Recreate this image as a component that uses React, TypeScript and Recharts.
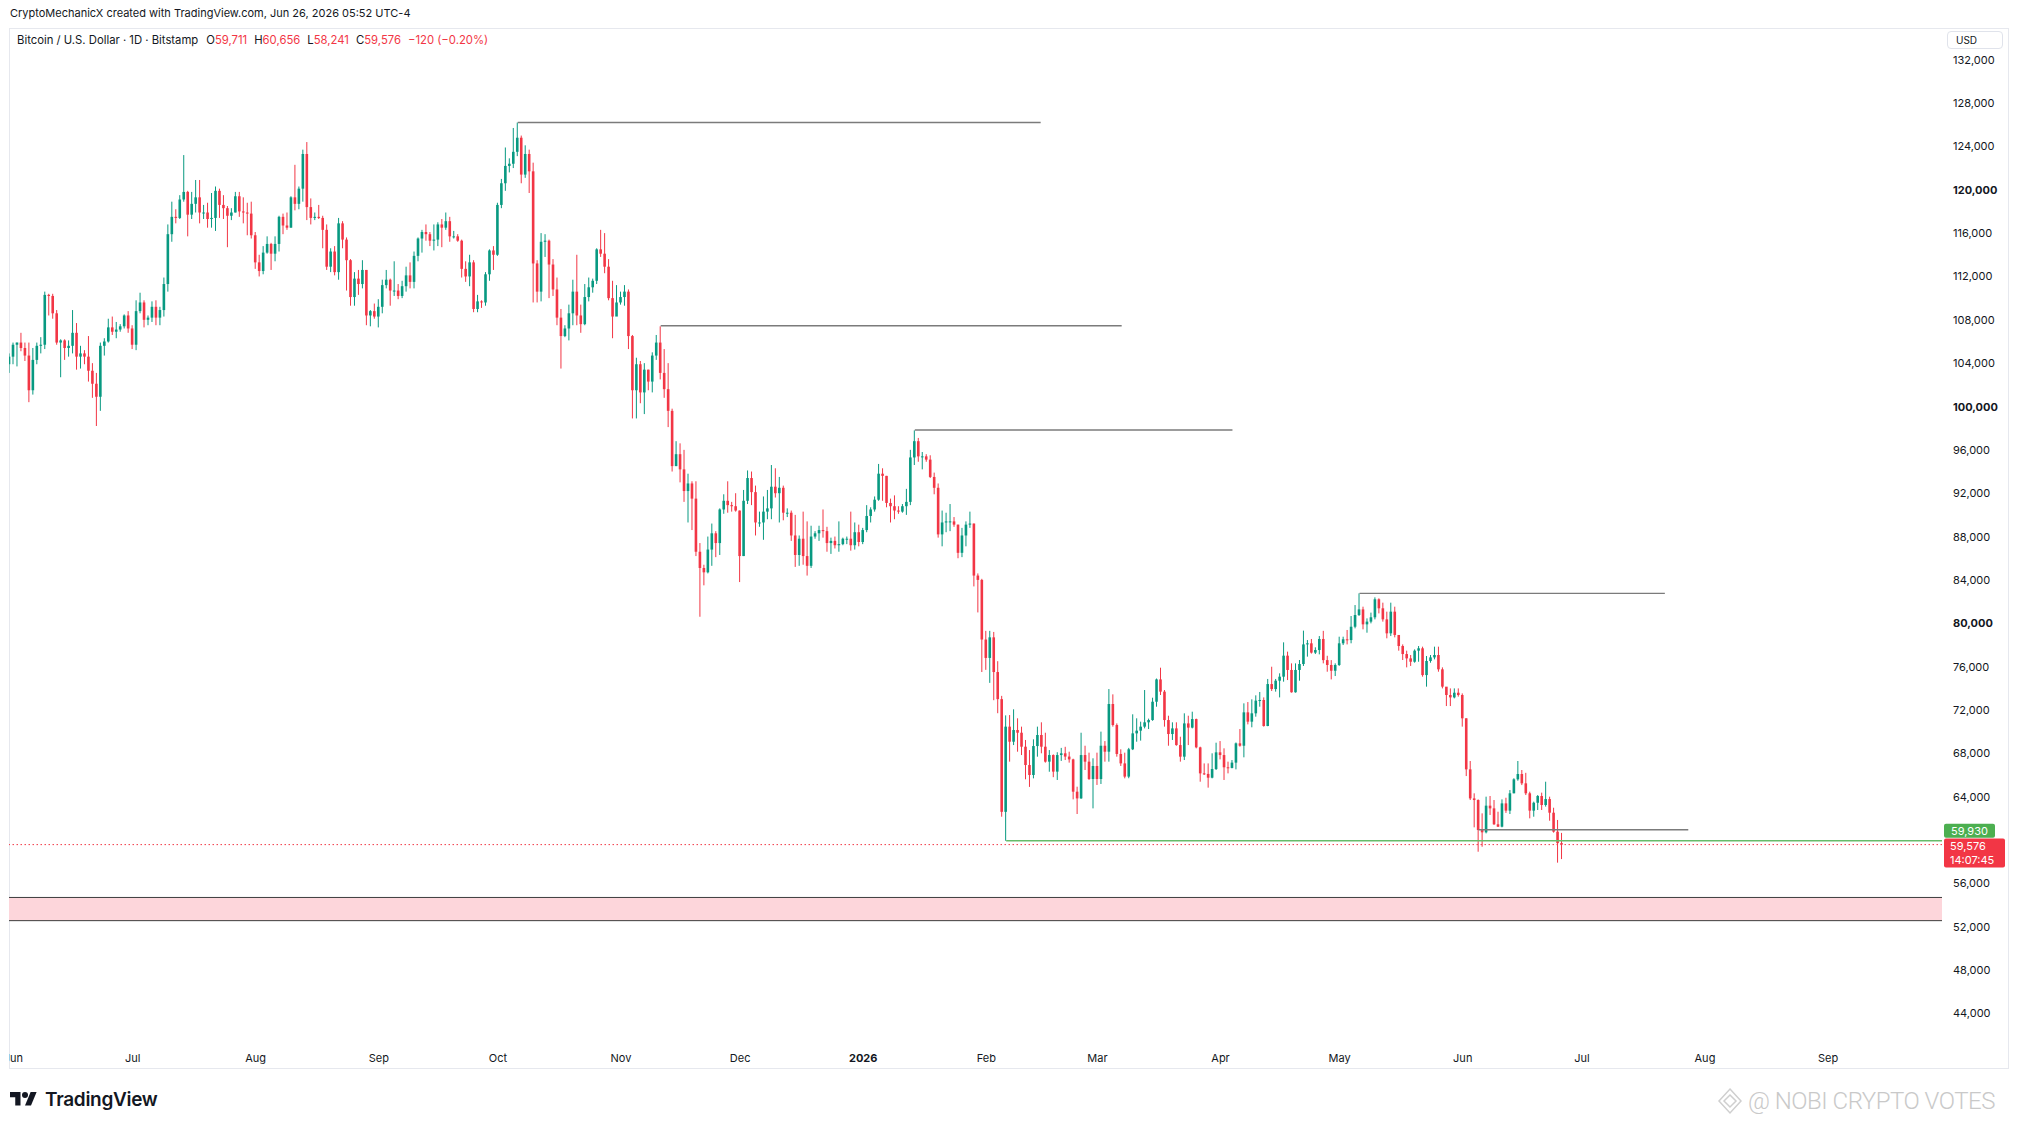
import React from "react";
import { ComposedChart, Bar, XAxis, YAxis, ReferenceLine, ReferenceArea } from "recharts";

const FONT = "Inter, 'Noto Sans', Roboto, sans-serif";
const GREEN = "#089981";
const RED = "#F23645";
const TEXT = "#131722";

// Daily candles, values in thousand USD: [high, low, close]; open = previous close
const firstOpen = 103.9;
const may2025 = [[104.9, 103.1, 104.6]];
const jun2025 = [
  [105.9, 103.9, 105.7], [105.9, 103.7, 105.9], [106.8, 105.1, 105.4], [105.9, 104.2, 104.7], [105.9, 100.4, 101.5],
  [105.4, 101.1, 104.3], [105.9, 103.9, 105.6], [106.4, 104.9, 105.7], [110.6, 105.3, 110.3], [110.4, 108.4, 110.2],
  [110.4, 108.1, 108.6], [108.9, 105.7, 105.9], [106.2, 102.7, 106.1], [106.2, 104.3, 105.4], [106.1, 104.6, 105.6],
  [108.9, 104.9, 106.8], [107.7, 103.4, 104.6], [105.6, 103.5, 104.9], [105.2, 103.9, 104.6], [106.5, 102.3, 103.3],
  [104.0, 100.8, 102.1], [103.1, 98.2, 100.9], [105.9, 99.6, 105.6], [106.3, 104.7, 106.0], [108.1, 105.9, 107.3],
  [108.3, 106.6, 106.9], [107.8, 106.3, 107.1], [107.6, 106.9, 107.4], [108.5, 107.2, 108.4], [108.8, 106.8, 107.2],
];
const jul2025 = [
  [107.5, 105.3, 105.7], [109.8, 105.2, 108.8], [110.5, 108.6, 109.6], [109.8, 107.3, 108.0], [108.4, 107.5, 108.2],
  [109.7, 107.8, 109.2], [109.8, 107.5, 108.2], [109.2, 107.5, 108.9], [111.9, 108.3, 111.3], [116.8, 110.6, 115.9],
  [118.9, 115.2, 117.5], [118.2, 116.9, 117.4], [119.5, 117.3, 119.1], [123.2, 118.9, 119.8], [119.9, 115.7, 117.7],
  [119.8, 117.3, 118.7], [120.9, 117.9, 119.3], [120.9, 116.9, 117.9], [118.6, 117.3, 117.9], [118.8, 116.5, 117.3],
  [119.7, 116.5, 117.4], [120.3, 116.2, 119.9], [120.1, 117.4, 118.6], [119.5, 117.3, 118.3], [118.5, 114.7, 117.6],
  [118.3, 117.2, 117.9], [119.8, 117.9, 119.4], [119.8, 117.5, 118.0], [119.3, 116.9, 117.9], [118.8, 115.8, 117.8],
  [118.9, 115.5, 115.8],
];
const aug2025 = [
  [116.1, 112.7, 113.3], [114.0, 112.0, 112.5], [114.8, 112.2, 114.2], [115.7, 114.1, 115.0], [115.1, 112.6, 114.1],
  [115.7, 113.4, 115.0], [117.6, 114.3, 117.5], [117.8, 115.9, 116.7], [117.9, 116.3, 116.5], [119.4, 116.5, 119.3],
  [122.3, 118.1, 118.7], [120.3, 118.2, 120.1], [123.7, 118.9, 123.3], [124.4, 117.2, 118.4], [119.2, 116.8, 117.4],
  [117.9, 117.2, 117.5], [118.6, 117.3, 117.4], [117.6, 114.6, 116.3], [116.8, 112.6, 112.9], [114.6, 112.4, 114.3],
  [114.8, 112.1, 112.4], [117.4, 111.7, 116.9], [117.1, 114.6, 115.4], [115.6, 110.7, 113.5], [113.6, 109.3, 110.1],
  [112.4, 109.3, 111.8], [112.6, 110.3, 111.3], [113.5, 110.9, 112.6], [112.6, 107.5, 108.4], [108.9, 107.4, 108.8],
  [109.5, 108.1, 108.3],
];
const sep2025 = [
  [109.9, 107.3, 109.2], [111.7, 108.6, 111.2], [112.6, 110.9, 111.7], [111.8, 109.3, 110.7], [113.4, 110.2, 110.7],
  [111.3, 109.9, 110.2], [111.6, 110.0, 111.1], [112.9, 110.6, 112.1], [113.3, 110.9, 111.5], [114.3, 110.9, 113.9],
  [115.6, 113.4, 115.5], [116.3, 114.2, 116.1], [116.8, 115.3, 115.9], [116.1, 114.8, 115.3], [116.8, 114.4, 115.4],
  [117.0, 114.8, 116.8], [117.3, 114.7, 116.5], [117.9, 116.3, 117.1], [117.5, 115.2, 115.7], [116.2, 115.5, 115.7],
  [115.9, 115.2, 115.3], [115.4, 111.9, 112.7], [113.4, 111.5, 112.0], [114.0, 111.1, 113.3], [113.5, 108.7, 109.0],
  [110.3, 108.7, 109.7], [109.8, 109.1, 109.6], [112.4, 109.3, 112.2], [114.5, 111.6, 114.4], [114.8, 112.6, 114.0],
];
const oct2025 = [
  [118.8, 113.9, 118.6], [121.0, 118.3, 120.6], [123.9, 119.9, 122.2], [122.9, 121.6, 122.4], [125.7, 122.0, 123.5],
  [126.2, 123.1, 124.8], [125.0, 120.6, 121.4], [124.1, 121.1, 123.3], [123.7, 119.7, 121.7], [122.5, 109.6, 113.2],
  [113.5, 109.6, 110.6], [116.0, 109.7, 115.2], [115.9, 113.8, 115.3], [115.4, 110.0, 113.1], [113.6, 110.2, 110.8],
  [111.9, 107.5, 108.2], [109.0, 103.5, 106.5], [107.5, 106.4, 107.2], [109.4, 106.1, 108.6], [111.7, 107.5, 110.6],
  [114.0, 107.5, 108.4], [109.4, 106.8, 107.6], [111.3, 107.5, 110.1], [111.9, 109.7, 111.0], [111.8, 110.5, 111.6],
  [114.6, 111.3, 114.5], [116.3, 113.8, 114.1], [116.0, 112.3, 112.9], [113.6, 109.8, 110.0], [111.6, 106.3, 108.3],
  [111.2, 108.7, 109.6],
];
const nov2025 = [
  [110.6, 109.4, 110.1], [111.2, 109.3, 110.6], [110.8, 105.3, 106.5], [106.6, 98.9, 101.5], [104.5, 98.9, 103.9],
  [104.2, 100.3, 101.3], [104.0, 99.3, 103.4], [103.4, 101.5, 102.3], [105.0, 101.3, 104.7], [106.6, 104.3, 105.9],
  [107.4, 102.5, 103.1], [105.3, 100.8, 101.6], [104.0, 98.1, 99.6], [99.8, 94.0, 94.5], [96.8, 94.5, 95.6],
  [96.6, 93.0, 94.2], [96.0, 91.2, 92.2], [93.8, 89.3, 92.9], [93.1, 88.6, 91.5], [93.1, 86.2, 86.6],
  [87.4, 80.6, 85.1], [85.4, 83.5, 84.7], [88.0, 84.6, 86.8], [89.2, 85.3, 88.3], [88.5, 86.1, 87.4],
  [90.6, 86.3, 90.5], [91.9, 90.1, 91.3], [93.1, 90.2, 90.9], [91.2, 90.3, 90.8], [92.0, 90.3, 90.4],
];
const dec2025 = [
  [90.4, 83.8, 86.2], [92.3, 86.2, 91.3], [94.1, 91.0, 93.4], [94.0, 90.9, 92.1], [92.7, 88.1, 89.3],
  [90.3, 88.9, 89.3], [91.7, 87.7, 90.3], [92.3, 89.6, 90.6], [94.6, 89.6, 92.6], [94.3, 91.6, 92.0],
  [93.5, 89.3, 92.5], [92.7, 89.5, 90.2], [90.6, 89.8, 90.2], [90.4, 87.6, 88.1], [90.0, 85.2, 86.3],
  [88.1, 85.3, 87.8], [90.3, 85.4, 86.2], [89.4, 84.4, 85.3], [89.0, 85.1, 88.0], [88.5, 87.8, 88.3],
  [89.0, 87.6, 88.6], [90.5, 87.9, 88.5], [88.9, 86.6, 87.4], [87.9, 86.4, 87.6], [88.0, 86.9, 87.2],
  [89.4, 86.6, 87.3], [87.9, 87.2, 87.8], [88.0, 87.3, 87.8], [90.3, 86.7, 87.2], [89.3, 86.8, 88.4],
  [89.1, 87.1, 87.5],
];
const jan2026 = [
  [88.8, 87.3, 88.6], [90.9, 88.4, 89.9], [90.7, 89.3, 90.5], [91.7, 90.3, 91.4], [94.7, 91.3, 93.8],
  [94.3, 91.3, 93.6], [93.6, 90.7, 91.1], [91.5, 89.3, 90.8], [91.8, 89.6, 90.4], [90.8, 90.1, 90.3],
  [91.0, 90.2, 90.8], [92.4, 90.0, 91.2], [96.0, 90.9, 95.3], [97.8, 94.6, 96.8], [97.1, 94.9, 95.4],
  [95.8, 94.2, 95.4], [95.6, 94.9, 95.1], [95.5, 93.4, 93.5], [93.9, 91.9, 92.5], [92.9, 87.9, 88.2],
  [90.4, 87.1, 89.3], [90.2, 88.4, 89.4], [91.0, 88.5, 89.4], [89.8, 88.9, 89.1], [89.1, 86.0, 86.5],
  [88.8, 86.1, 88.1], [89.4, 87.1, 89.1], [90.3, 88.8, 89.2], [89.2, 83.4, 84.4], [84.6, 81.0, 84.0],
  [84.1, 75.5, 78.5],
];
const feb2026 = [
  [79.3, 75.7, 76.8], [79.3, 74.5, 78.7], [79.2, 72.9, 75.5], [76.5, 71.7, 73.0], [73.3, 62.15, 62.6],
  [71.5, 59.93, 70.46], [71.53, 67.23, 69.07], [72.06, 68.76, 70.15], [71.23, 68.15, 69.9], [70.46, 67.84, 68.61],
  [69.23, 65.6, 66.92], [68.3, 64.9, 66.0], [69.29, 65.69, 68.67], [70.46, 67.69, 69.69], [70.86, 68.0, 68.61],
  [69.9, 67.14, 67.23], [68.3, 66.3, 67.84], [67.9, 65.8, 66.31], [68.1, 65.54, 67.84], [68.5, 67.3, 68.0],
  [68.6, 67.38, 67.7], [68.15, 67.14, 67.44], [67.5, 63.75, 64.46], [64.92, 62.4, 63.84], [69.9, 63.8, 67.84],
  [68.7, 66.46, 67.23], [68.06, 65.54, 65.63], [67.54, 62.92, 66.83],
];
const mar2026 = [
  [68.06, 65.08, 65.63], [70.0, 65.17, 68.7], [69.13, 67.23, 68.15], [73.93, 67.23, 72.55], [73.44, 70.46, 70.61],
  [70.76, 67.69, 67.94], [68.37, 66.83, 67.07], [68.06, 65.69, 65.85], [68.5, 65.7, 68.37], [71.6, 68.3, 69.84],
  [71.23, 69.07, 70.09], [70.92, 69.17, 70.46], [73.84, 70.3, 70.86], [71.2, 70.24, 71.07], [73.13, 71.0, 72.76],
  [74.9, 72.3, 74.82], [75.9, 73.38, 73.69], [73.84, 70.46, 71.07], [71.47, 68.7, 69.78], [70.86, 69.23, 70.3],
  [70.86, 68.7, 68.76], [69.53, 67.23, 67.69], [71.69, 67.38, 70.76], [71.47, 68.76, 70.37], [71.84, 70.3, 71.16],
  [71.2, 68.46, 68.55], [68.61, 65.38, 66.15], [67.07, 66.0, 66.1], [67.07, 64.83, 65.75], [68.0, 65.69, 66.55],
  [68.98, 66.46, 68.09],
];
const apr2026 = [
  [69.13, 67.44, 67.84], [68.46, 65.54, 66.71], [67.23, 66.15, 66.65], [67.38, 66.61, 67.14], [69.0, 66.52, 68.92],
  [70.24, 68.61, 68.7], [72.61, 67.63, 71.78], [72.73, 70.67, 70.92], [72.98, 70.4, 71.69], [73.35, 71.38, 72.86],
  [73.66, 72.3, 72.92], [73.16, 70.46, 70.52], [74.86, 70.5, 74.39], [75.99, 73.75, 73.93], [74.86, 73.69, 74.7],
  [75.38, 73.16, 75.07], [78.24, 74.61, 77.01], [77.38, 74.76, 75.69], [76.3, 73.6, 73.63], [76.3, 73.6, 75.69],
  [76.61, 74.7, 76.24], [79.32, 76.06, 78.05], [78.45, 76.92, 78.15], [78.55, 77.2, 77.29], [77.78, 77.16, 77.53],
  [78.82, 77.13, 78.55], [79.3, 76.3, 76.6], [77.0, 75.53, 76.15], [76.6, 74.82, 75.62], [76.3, 75.13, 76.15],
];
const may2026 = [
  [78.76, 76.06, 78.15], [78.76, 77.99, 78.52], [79.38, 78.05, 78.45], [80.67, 78.15, 79.68], [81.68, 79.53, 80.76],
  [82.76, 80.67, 81.28], [81.53, 79.44, 79.9], [80.45, 79.13, 80.15], [80.98, 79.99, 80.55], [82.39, 80.36, 82.21],
  [82.3, 80.91, 81.38], [81.9, 80.15, 80.36], [81.07, 78.61, 79.07], [81.9, 78.82, 81.07], [81.53, 78.7, 78.92],
  [78.52, 77.47, 77.9], [78.05, 76.61, 77.16], [77.47, 75.93, 76.76], [77.07, 76.06, 76.45], [77.59, 76.36, 77.47],
  [77.9, 76.45, 77.69], [77.84, 75.07, 75.22], [76.98, 74.15, 76.52], [77.07, 76.36, 76.85], [77.84, 76.67, 77.07],
  [77.84, 75.53, 75.75], [75.93, 73.99, 74.15], [74.09, 72.36, 73.38], [73.99, 72.36, 73.16], [73.99, 73.07, 73.59],
  [73.99, 73.23, 73.38],
];
const jun2026 = [
  [73.53, 70.46, 71.23], [71.23, 65.9, 66.52], [67.29, 63.69, 63.84], [64.31, 61.17, 63.69], [63.75, 58.92, 60.92],
  [62.46, 59.38, 60.71], [64.0, 60.61, 63.17], [64.06, 62.31, 62.92], [63.69, 61.39, 61.45], [62.61, 61.2, 61.23],
  [63.75, 61.17, 63.38], [63.9, 62.5, 62.71], [64.61, 62.4, 64.31], [65.7, 64.31, 65.6], [67.29, 65.47, 66.09],
  [66.46, 65.07, 65.23], [66.2, 64.15, 64.31], [64.46, 62.0, 62.71], [63.54, 62.15, 63.44], [64.15, 62.77, 64.06],
  [64.37, 62.77, 63.23], [65.38, 63.08, 63.78], [64.0, 61.78, 62.52], [62.98, 60.68, 60.77], [61.85, 57.91, 59.711],
  [60.656, 58.241, 59.576],
];
const monthBlocks = [may2025, jun2025, jul2025, aug2025, sep2025, oct2025, nov2025, dec2025, jan2026, feb2026, mar2026, apr2026, may2026, jun2026];

// Time axis (day index, day 0 = 31 May 2025)
const tickDays = [1, 31, 62, 93, 123, 154, 184, 215, 246, 274, 305, 335, 366, 396, 427, 458];
const tickLabels = ["Jun", "Jul", "Aug", "Sep", "Oct", "Nov", "Dec", "2026", "Feb", "Mar", "Apr", "May", "Jun", "Jul", "Aug", "Sep"];
const xDomain = [-0.13, 486.7];

// Price axis
const priceTicks = [44000, 48000, 52000, 56000, 64000, 68000, 72000, 76000, 80000, 84000, 88000, 92000, 96000, 100000, 104000, 108000, 112000, 116000, 120000, 124000, 128000, 132000];
const boldPrices = [80000, 100000, 120000];
const yDomain = [41086, 134925];

// Drawn levels: [fromDay, toDay, price]
const resistanceLevels = [
  [128, 259.7, 126200],
  [164, 280.1, 107450],
  [228, 308.0, 97830],
  [340, 416.9, 82760],
  [370, 422.8, 60950],
];
const supportLevel = [251, 486.7, 59930];
const zoneBounds = [52560, 54700];
const countdown = "14:07:45";
const changeText = "\u2212120 (\u22120.20%)";

const rows: any[] = [];
{
  let prev = firstOpen;
  let day = 0;
  monthBlocks.forEach((block) =>
    block.forEach(([h, l, c]) => {
      rows.push({ day, open: prev * 1000, high: h * 1000, low: l * 1000, close: c * 1000, range: [l * 1000, h * 1000] });
      prev = c;
      day += 1;
    })
  );
}
const last = rows[rows.length - 1];
const fmt = (v: number) => Math.round(v).toLocaleString("en-US");

const Candle = (props: any) => {
  const { x, y, width, height, payload } = props;
  if (!payload || x == null || y == null) return null;
  const top = Math.min(y, y + height);
  const h = Math.abs(height);
  const span = payload.high - payload.low || 1;
  const py = (v: number) => top + ((payload.high - v) / span) * h;
  const up = payload.close >= payload.open;
  const color = up ? GREEN : RED;
  const cx = x + width / 2;
  const bTop = py(Math.max(payload.open, payload.close));
  const bBot = py(Math.min(payload.open, payload.close));
  return (
    <g>
      <line x1={cx} x2={cx} y1={top} y2={top + Math.max(h, 1)} stroke={color} strokeWidth={1} />
      <rect x={cx - 1.3} y={bTop} width={2.6} height={Math.max(1, bBot - bTop)} fill={color} />
    </g>
  );
};

const XTick = (props: any) => {
  const { x, payload } = props;
  const i = tickDays.indexOf(payload.value);
  const label = tickLabels[i];
  const id = `clipx${i}`;
  return (
    <g>
      <defs>
        <clipPath id={id}>
          <rect x={9} y={1040} width={1933} height={40} />
        </clipPath>
      </defs>
      <text x={x} y={1062} textAnchor="middle" fontSize={11} fontFamily={FONT} fill={TEXT} fontWeight={label === "2026" ? 700 : 400} clipPath={`url(#${id})`}>
        {label}
      </text>
    </g>
  );
};

const YTick = (props: any) => {
  const { y, payload } = props;
  const v = payload.value;
  return (
    <text x={1953} y={y + 4} fontSize={11} fontFamily={FONT} fill={TEXT} fontWeight={boldPrices.includes(v) ? 700 : 400}>
      {fmt(v)}
    </text>
  );
};

const SupportTag = (props: any) => {
  const vb = props.viewBox || {};
  const right = (vb.x || 0) + (vb.width || 0);
  const cy = vb.y || 0;
  return (
    <g>
      <rect x={right + 2} y={cy - 17} width={51} height={14} rx={2} fill="#4caf50" />
      <text x={right + 27.5} y={cy - 6} textAnchor="middle" fontSize={11} fontFamily={FONT} fill="#ffffff">
        {fmt(supportLevel[2])}
      </text>
    </g>
  );
};

const LastTag = (props: any) => {
  const vb = props.viewBox || {};
  const right = (vb.x || 0) + (vb.width || 0);
  const cy = vb.y || 0;
  return (
    <g>
      <rect x={right + 2} y={cy - 6} width={61} height={29} rx={2} fill={RED} />
      <text x={right + 8} y={cy + 5} fontSize={11} fontFamily={FONT} fill="#ffffff">
        {fmt(last.close)}
      </text>
      <text x={right + 8} y={cy + 19} fontSize={11} fontFamily={FONT} fill="#ffffff">
        {countdown}
      </text>
    </g>
  );
};

export default function App() {
  return (
    <div style={{ position: "absolute", left: 0, top: 0, width: 2019, height: 1126, background: "#ffffff", fontFamily: FONT, overflow: "hidden" }}>
      <div style={{ position: "absolute", left: 9, top: 28, width: 2000, height: 1041, border: "1px solid #e6e8ee", boxSizing: "border-box" }} />
      <ComposedChart
        width={2019}
        height={1126}
        data={rows}
        margin={{ top: 28, right: 0, bottom: 0, left: 9 }}
        style={{ position: "absolute", left: 0, top: 0 }}
      >
        <XAxis
          dataKey="day"
          type="number"
          domain={xDomain}
          allowDataOverflow
          ticks={tickDays}
          interval={0}
          height={81}
          axisLine={false}
          tickLine={false}
          tick={<XTick />}
        />
        <YAxis
          type="number"
          orientation="right"
          domain={yDomain}
          allowDataOverflow
          ticks={priceTicks}
          interval={0}
          width={77}
          axisLine={false}
          tickLine={false}
          tick={<YTick />}
        />
        <ReferenceArea y1={zoneBounds[0]} y2={zoneBounds[1]} fill="#fdd6db" fillOpacity={1} stroke="none" />
        <ReferenceLine y={zoneBounds[1]} stroke="#3d3d3d" strokeWidth={1} />
        <ReferenceLine y={zoneBounds[0]} stroke="#3d3d3d" strokeWidth={1} />
        {resistanceLevels.map(([a, b, p], i) => (
          <ReferenceLine key={i} segment={[{ x: a, y: p }, { x: b, y: p }]} stroke="#7b7b7b" strokeWidth={1.4} />
        ))}
        <Bar dataKey="range" shape={<Candle />} barSize={3} isAnimationActive={false} />
        <ReferenceLine
          segment={[{ x: supportLevel[0], y: supportLevel[2] }, { x: supportLevel[1], y: supportLevel[2] }]}
          stroke="#66bb6a"
          strokeWidth={1.3}
          label={<SupportTag />}
        />
        <ReferenceLine y={last.close} stroke={RED} strokeWidth={1} strokeDasharray="1.5 2.5" label={<LastTag />} />
      </ComposedChart>

      <div style={{ position: "absolute", left: 10, top: 6, fontSize: 11, color: TEXT, whiteSpace: "nowrap" }}>
        CryptoMechanicX created with TradingView.com, Jun 26, 2026 05:52 UTC-4
      </div>
      <div style={{ position: "absolute", left: 17, top: 33, fontSize: 11.3, color: TEXT, whiteSpace: "nowrap" }}>
        Bitcoin / U.S. Dollar · 1D · Bitstamp
        <span style={{ marginLeft: 8 }}>O</span>
        <span style={{ color: RED }}>{fmt(last.open)}</span>
        <span style={{ marginLeft: 7 }}>H</span>
        <span style={{ color: RED }}>{fmt(last.high)}</span>
        <span style={{ marginLeft: 7 }}>L</span>
        <span style={{ color: RED }}>{fmt(last.low)}</span>
        <span style={{ marginLeft: 7 }}>C</span>
        <span style={{ color: RED }}>{fmt(last.close)}</span>
        <span style={{ color: RED, marginLeft: 7 }}>{changeText}</span>
      </div>
      <div style={{ position: "absolute", left: 1947, top: 31, width: 56, height: 18, border: "1px solid #e0e3eb", borderRadius: 4, background: "#fff", boxSizing: "border-box", fontSize: 10, color: TEXT, lineHeight: "16px", paddingLeft: 8 }}>
        USD
      </div>

      <div style={{ position: "absolute", left: 10, top: 1088, display: "flex", alignItems: "center" }}>
        <svg width="27" height="21" viewBox="0 0 36 28">
          <path d="M14 22H7V11H0V4h14v18z" fill={TEXT} />
          <path d="M28 22h-8l7.5-18h8L28 22z" fill={TEXT} />
          <circle cx="20" cy="8" r="4" fill={TEXT} />
        </svg>
        <span style={{ marginLeft: 8, fontSize: 19, fontWeight: 600, color: TEXT, letterSpacing: -0.3 }}>TradingView</span>
      </div>

      <div style={{ position: "absolute", left: 1717, top: 1087, display: "flex", alignItems: "center", color: "#c9c9c9" }}>
        <svg width="26" height="28" viewBox="0 0 26 28">
          <path d="M13 2 L24 14 L13 26 L2 14 Z" fill="none" stroke="#cfcfcf" strokeWidth="1.5" />
          <path d="M13 8 L19 14 L13 20 L7 14 Z" fill="none" stroke="#cfcfcf" strokeWidth="1.5" />
        </svg>
        <span style={{ marginLeft: 5, fontSize: 24, fontWeight: 300, fontFamily: "Roboto, 'Noto Sans', sans-serif", letterSpacing: -0.5 }}>@ NOBI CRYPTO VOTES</span>
      </div>
    </div>
  );
}
